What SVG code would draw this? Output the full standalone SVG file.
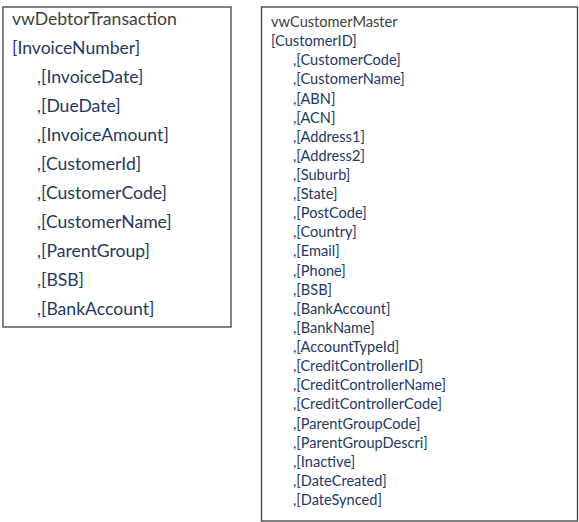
<svg xmlns="http://www.w3.org/2000/svg" width="579" height="522" viewBox="0 0 579 522">
<style>
.box{fill:#fff;stroke:#404040;stroke-width:1.3}
.t{font-family:Lato,"Liberation Sans",sans-serif;fill:#404040}
.f{font-family:Lato,"Liberation Sans",sans-serif;fill:#1F3864}
.L{font-size:17.6px}
.R{font-size:14.6px}
</style>
<rect width="579" height="522" fill="#fff"/>
<g id="vwDebtorTransaction">
<rect class="box" x="3" y="7" width="228" height="320"/>
<text class="t L" x="12" y="24.5">vwDebtorTransaction</text>
<text class="f L" x="12" y="53.5">[InvoiceNumber]</text>
<text class="f L" x="37" y="82.5">,[InvoiceDate]</text>
<text class="f L" x="37" y="111.5">,[DueDate]</text>
<text class="f L" x="37" y="140.5">,[InvoiceAmount]</text>
<text class="f L" x="37" y="169.5">,[CustomerId]</text>
<text class="f L" x="37" y="198.5">,[CustomerCode]</text>
<text class="f L" x="37" y="227.5">,[CustomerName]</text>
<text class="f L" x="37" y="256.5">,[ParentGroup]</text>
<text class="f L" x="37" y="285.5">,[BSB]</text>
<text class="f L" x="37" y="314.5">,[BankAccount]</text>
</g>
<g id="vwCustomerMaster">
<rect class="box" x="261.5" y="7" width="316" height="514"/>
<text class="t R" x="271" y="27">vwCustomerMaster</text>
<text class="f R" x="271" y="46.1">[CustomerID]</text>
<text class="f R" x="293" y="65.2">,[CustomerCode]</text>
<text class="f R" x="293" y="84.4">,[CustomerName]</text>
<text class="f R" x="293" y="103.5">,[ABN]</text>
<text class="f R" x="293" y="122.6">,[ACN]</text>
<text class="f R" x="293" y="141.7">,[Address1]</text>
<text class="f R" x="293" y="160.8">,[Address2]</text>
<text class="f R" x="293" y="180">,[Suburb]</text>
<text class="f R" x="293" y="199.1">,[State]</text>
<text class="f R" x="293" y="218.2">,[PostCode]</text>
<text class="f R" x="293" y="237.3">,[Country]</text>
<text class="f R" x="293" y="256.4">,[Email]</text>
<text class="f R" x="293" y="275.6">,[Phone]</text>
<text class="f R" x="293" y="294.7">,[BSB]</text>
<text class="f R" x="293" y="313.8">,[BankAccount]</text>
<text class="f R" x="293" y="332.9">,[BankName]</text>
<text class="f R" x="293" y="352">,[AccountTypeId]</text>
<text class="f R" x="293" y="371.2">,[CreditControllerID]</text>
<text class="f R" x="293" y="390.3">,[CreditControllerName]</text>
<text class="f R" x="293" y="409.4">,[CreditControllerCode]</text>
<text class="f R" x="293" y="428.5">,[ParentGroupCode]</text>
<text class="f R" x="293" y="447.6">,[ParentGroupDescri]</text>
<text class="f R" x="293" y="466.8">,[Inactive]</text>
<text class="f R" x="293" y="485.9">,[DateCreated]</text>
<text class="f R" x="293" y="505">,[DateSynced]</text>
</g>
</svg>
